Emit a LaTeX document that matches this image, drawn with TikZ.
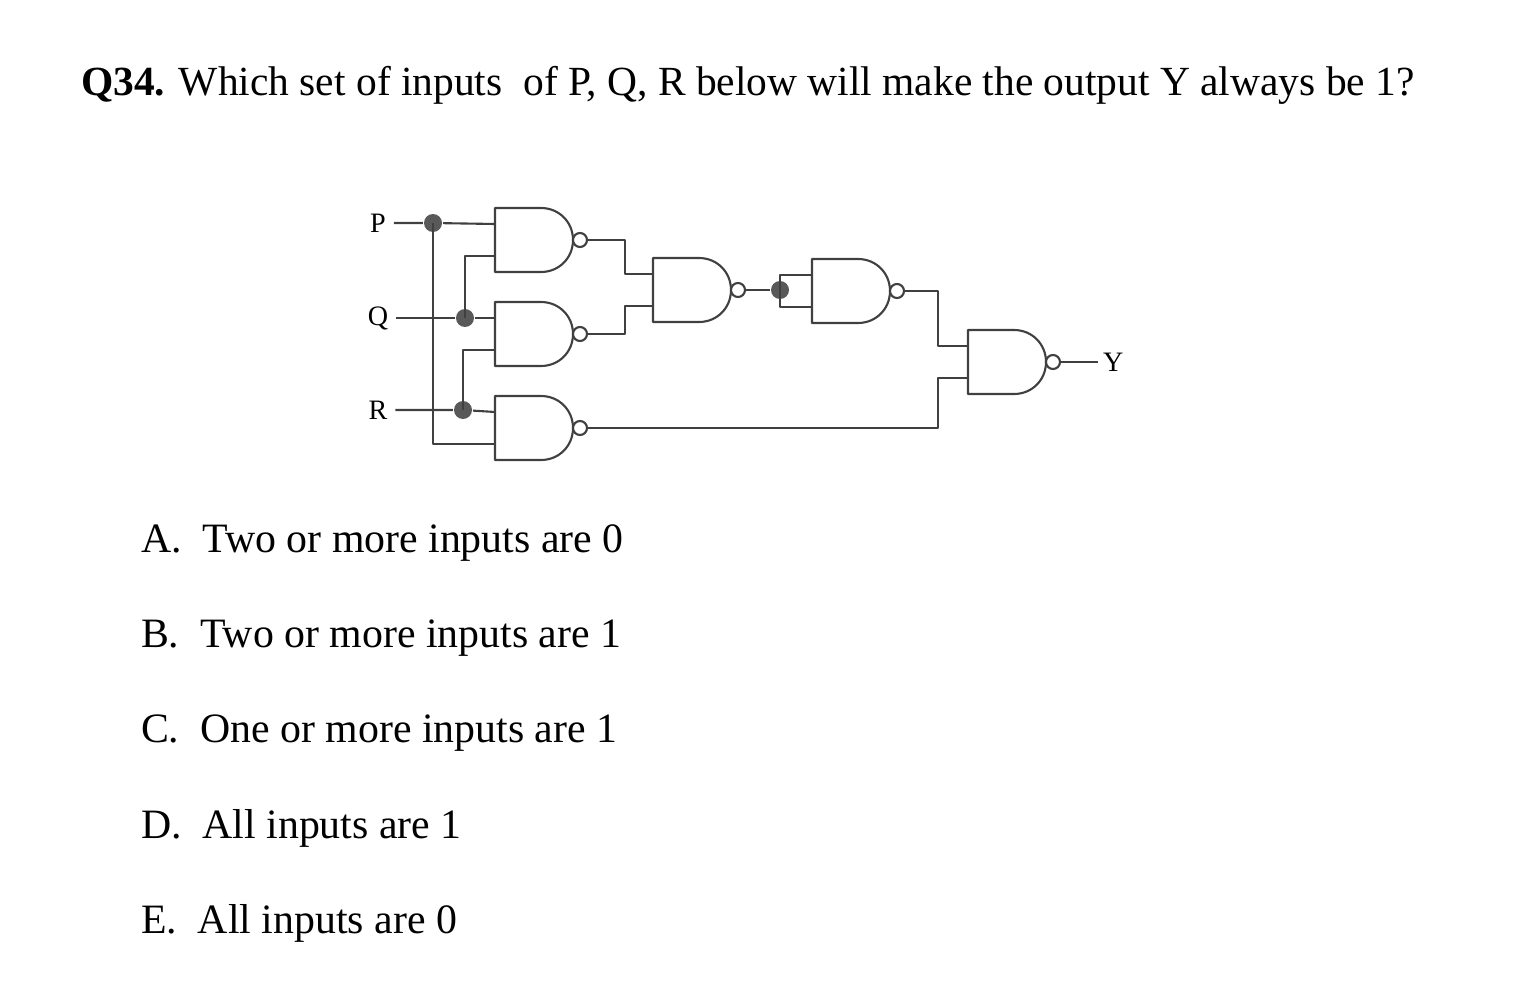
\documentclass[tikz,border=0pt]{standalone}
\usepackage{fontspec}
\setmainfont{Liberation Serif}
\begin{document}
\begin{tikzpicture}[x=0.02cm,y=-0.02cm,line width=1.2pt,line join=round,
  wire/.style={draw=black!75},
  gateshape/.style={draw=black!75,fill=white},
  jdot/.style={circle,fill=black!65,inner sep=0pt,minimum size=0.36cm},
  lbl/.style={font=\fontsize{16}{18}\selectfont,inner sep=0pt},
  opt/.style={anchor=base west,inner sep=0pt,font=\fontsize{23.8}{28}\selectfont}]
\useasboundingbox (0,0) rectangle (1518,997);
\newcommand{\nandgate}[3]{% name, left x, center y
  \draw[gateshape] (#2,#3-32) -- (#2+46,#3-32) .. controls (#2+64,#3-32) and (#2+78,#3-18) .. (#2+78,#3)
    .. controls (#2+78,#3+18) and (#2+64,#3+32) .. (#2+46,#3+32) -- (#2,#3+32) -- cycle;
  \draw[gateshape] (#2+85,#3) circle[radius=0.14cm];
  \coordinate (#1a) at (#2,#3-16);
  \coordinate (#1b) at (#2,#3+16);
  \coordinate (#1o) at (#2+92,#3);}
\node[anchor=base west,inner sep=0pt,font=\fontsize{23.6}{28}\selectfont] (title) at (80,96) {\textbf{Q34.} Which set of inputs\ \ of P, Q, R below will make the output Y always be 1?};
\nandgate{g1}{495}{240}
\nandgate{g2}{495}{334}
\nandgate{g3}{495}{428}
\nandgate{g4}{653}{290}
\nandgate{g5}{812}{291}
\nandgate{g6}{968}{362}
\node[lbl] (P) at (378,223) {P};
\node[lbl] (Q) at (378,318) {Q};
\node[lbl] (R) at (378,410) {R};
\node[lbl,anchor=west] (Y) at (1102,362) {Y};
\node[jdot] (dP) at (433,223) {};
\node[jdot] (dQ) at (465,318) {};
\node[jdot] (dR) at (463,410) {};
\node[jdot] (dM) at (780,290) {};
\draw[wire] ([xshift=4pt]P.east) -- (dP) -- (g1a);
\draw[wire] (dP.center) |- (g3b);
\draw[wire] ([xshift=4pt]Q.east) -- (dQ) -- (g2a);
\draw[wire] (dQ.center) |- (g1b);
\draw[wire] ([xshift=4pt]R.east) -- (dR) -- (g3a);
\draw[wire] (dR.center) |- (g2b);
\draw[wire] (g1o) -| (625,274) -- (g4a);
\draw[wire] (g2o) -| (625,306) -- (g4b);
\draw[wire] (g4o) -- (dM);
\draw[wire] (dM.center) |- (g5a);
\draw[wire] (dM.center) |- (g5b);
\draw[wire] (g5o) -| (938,346) -- (g6a);
\draw[wire] (g3o) -| (938,378) -- (g6b);
\draw[wire] (g6o) -- ([xshift=-2pt]Y.west);
\node[opt] (oA) at (140,552) {A.\ \ Two or more inputs are 0};
\node[opt] (oB) at (140,647) {B.\ \ Two or more inputs are 1};
\node[opt] (oC) at (140,742) {C.\ \ One or more inputs are 1};
\node[opt] (oD) at (140,838) {D.\ \ All inputs are 1};
\node[opt] (oE) at (140,933) {E.\ \ All inputs are 0};
\end{tikzpicture}
\end{document}
